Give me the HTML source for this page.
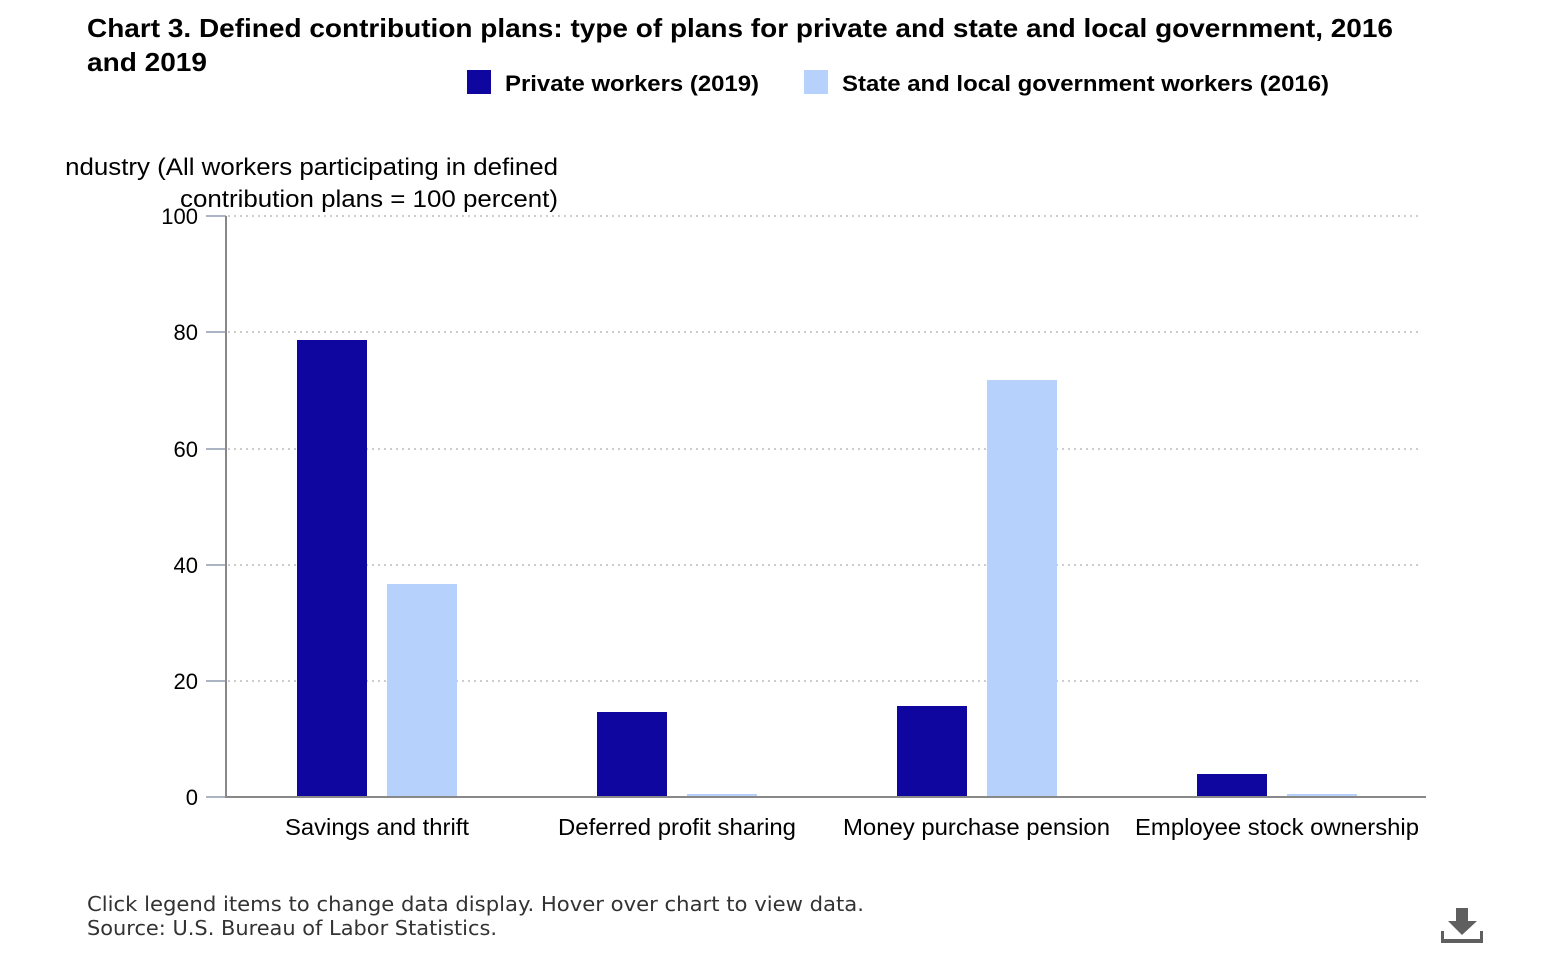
<!DOCTYPE html>
<html><head><meta charset="utf-8"><style>
html,body{margin:0;padding:0;background:#fff;width:1564px;height:964px;overflow:hidden}
</style></head><body>
<svg width="1564" height="964" xmlns="http://www.w3.org/2000/svg" font-family="Liberation Sans, Arial, sans-serif">
<defs><clipPath id="c"><rect x="64" y="140" width="600" height="80"/></clipPath></defs>
<text x="87" y="37" font-size="26" font-weight="bold" fill="#000" textLength="1306" lengthAdjust="spacingAndGlyphs">Chart 3. Defined contribution plans: type of plans for private and state and local government, 2016</text>
<text x="87" y="71" font-size="26" font-weight="bold" fill="#000" textLength="120" lengthAdjust="spacingAndGlyphs">and 2019</text>
<rect x="467" y="70" width="24" height="24" fill="#0f06a0"/>
<text x="505" y="91" font-size="22" font-weight="bold" textLength="254" lengthAdjust="spacingAndGlyphs">Private workers (2019)</text>
<rect x="804" y="70" width="24" height="24" fill="#b6d1fb"/>
<text x="842" y="91" font-size="22" font-weight="bold" textLength="487" lengthAdjust="spacingAndGlyphs">State and local government workers (2016)</text>
<g clip-path="url(#c)" font-size="24">
<text x="58" y="175" textLength="500" lengthAdjust="spacingAndGlyphs">Industry (All workers participating in defined</text>
<text x="180" y="207" textLength="378" lengthAdjust="spacingAndGlyphs">contribution plans = 100 percent)</text>
</g>
<g stroke="#bbb" stroke-width="1.5" stroke-dasharray="2,4">
<line x1="228" y1="216" x2="1420" y2="216"/>
<line x1="228" y1="332" x2="1420" y2="332"/>
<line x1="228" y1="449" x2="1420" y2="449"/>
<line x1="228" y1="565" x2="1420" y2="565"/>
<line x1="228" y1="681" x2="1420" y2="681"/>
</g>
<g stroke="#aab4c4" stroke-width="2">
<line x1="206" y1="216" x2="226" y2="216"/><line x1="206" y1="332" x2="226" y2="332"/>
<line x1="206" y1="449" x2="226" y2="449"/><line x1="206" y1="565" x2="226" y2="565"/>
<line x1="206" y1="681" x2="226" y2="681"/><line x1="206" y1="797" x2="226" y2="797"/>
</g>
<g font-size="22" text-anchor="end">
<text x="198" y="224">100</text><text x="198" y="340">80</text><text x="198" y="457">60</text>
<text x="198" y="573">40</text><text x="198" y="689">20</text><text x="198" y="805">0</text>
</g>
<g fill="#0f06a0">
<rect x="297" y="340" width="70" height="457"/>
<rect x="597" y="712" width="70" height="85"/>
<rect x="897" y="706" width="70" height="91"/>
<rect x="1197" y="774" width="70" height="23"/>
</g>
<g fill="#b6d1fb">
<rect x="387" y="584" width="70" height="213"/>
<rect x="687" y="794" width="70" height="3"/>
<rect x="987" y="380" width="70" height="417"/>
<rect x="1287" y="794" width="70" height="3"/>
</g>
<line x1="226" y1="216" x2="226" y2="798" stroke="#888" stroke-width="2"/>
<line x1="226" y1="797" x2="1426" y2="797" stroke="#888" stroke-width="2"/>
<g font-size="23" lengthAdjust="spacingAndGlyphs">
<text x="285" y="835" textLength="184" lengthAdjust="spacingAndGlyphs">Savings and thrift</text>
<text x="558" y="835" textLength="238" lengthAdjust="spacingAndGlyphs">Deferred profit sharing</text>
<text x="843" y="835" textLength="267" lengthAdjust="spacingAndGlyphs">Money purchase pension</text>
<text x="1135" y="835" textLength="284" lengthAdjust="spacingAndGlyphs">Employee stock ownership</text>
</g>
<g font-family="DejaVu Sans, sans-serif" font-size="20" fill="#333">
<text x="87" y="911" textLength="777" lengthAdjust="spacingAndGlyphs">Click legend items to change data display. Hover over chart to view data.</text>
<text x="87" y="935" textLength="410" lengthAdjust="spacingAndGlyphs">Source: U.S. Bureau of Labor Statistics.</text>
</g>
<g fill="#5f5f5f">
<rect x="1456" y="908" width="12" height="14"/>
<polygon points="1448,921 1477,921 1462,935"/>
<rect x="1441" y="939" width="42" height="4"/>
<rect x="1441" y="931" width="3" height="12"/>
<rect x="1480" y="931" width="3" height="12"/>
</g>
</svg>
</body></html>
